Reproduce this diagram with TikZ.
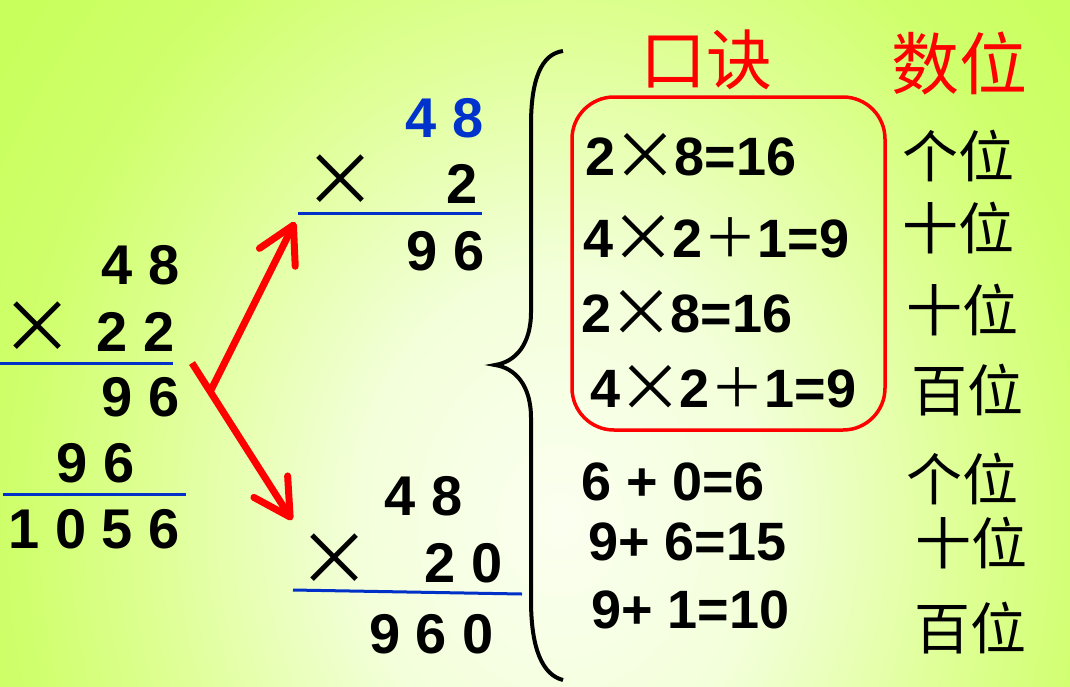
\documentclass[tikz,border=0pt]{standalone}
\usepackage{fontspec}
\setmainfont{Liberation Sans}
\newfontfamily\cjk{Noto Sans CJK SC}
\newfontfamily\cjkx{Noto Sans CJK SC}[Scale=1.3]
\usetikzlibrary{arrows.meta}
\definecolor{bgA}{HTML}{FBFFF0}
\definecolor{bgB}{HTML}{F3FFDA}
\definecolor{bgC}{HTML}{DEFF94}
\definecolor{bgD}{HTML}{CFFF6C}
\definecolor{bgE}{HTML}{C8FF5C}
\definecolor{numblue}{HTML}{0033CC}
\definecolor{lineblue}{HTML}{0030C8}
\pgfdeclareradialshading{bgshade}{\pgfpoint{0bp}{0bp}}{color(0bp)=(bgA); color(7.5bp)=(bgB); color(15bp)=(bgC); color(20bp)=(bgD); color(25bp)=(bgE); color(50bp)=(bgE)}
\newcommand{\tms}{\makebox[1.1em]{\hspace{2pt}\raisebox{-4pt}{\mdseries\cjk\fontsize{66}{66}\selectfont ×}}}
\newcommand{\pls}{\makebox[1.02em]{\mdseries\cjk ＋}}
\begin{document}
\begin{tikzpicture}[x=1pt,y=-1pt,
  num/.style={font=\bfseries\fontsize{56}{56}\selectfont, inner sep=0pt, anchor=base east},
  eqn/.style={font=\bfseries\fontsize{54}{54}\selectfont, inner sep=0pt, anchor=base west},
  timesign/.style={font=\cjkx\fontsize{57}{57}\selectfont, inner sep=0pt, anchor=center},
  place/.style={font=\cjk\fontsize{56}{56}\selectfont, inner sep=0pt, anchor=center},
  head/.style={font=\cjk\fontsize{66}{66}\selectfont, inner sep=0pt, anchor=center, text=red},
  rule/.style={draw=lineblue, line width=3pt},
  redarrow/.style={draw=red, line width=7pt, -{Straight Barb[length=36pt,width=40pt,round]}},
  brace/.style={draw=black, line width=4pt},
  box/.style={draw=red, line width=3.5pt, rounded corners=42pt}]
\useasboundingbox (0,0) rectangle (1070,686);
\begin{scope}
  \clip (0,0) rectangle (1070,686);
  \shade[shading=bgshade] (-120,-300) rectangle (1240,1340);
\end{scope}

% left column
\node[num] (a1) at (180,284) {4 8};
\node[timesign] (ax) at (38,328) {×};
\node[num] (a2) at (175,351) {2 2};
\draw[rule] (0,363) -- (173,363);
\node[num] (a3) at (180,416) {9 6};
\node[num] (a4) at (135,482) {9 6};
\draw[rule] (3,494) -- (186,494);
\node[num] (a5) at (180,548) {1 0 5 6};

% arrows
\coordinate (s) at (192,363);
\coordinate (j) at (210,392);
\coordinate (t1) at (295,222);
\coordinate (t2) at (292,520);
\draw[redarrow] (j) -- (t1);
\draw[redarrow] (s) -- (t2);

% middle top
\node[num, text=numblue] (b1) at (484,137) {4 8};
\node[timesign] (bx) at (341,181) {×};
\node[num] (b2) at (478,203) {2};
\draw[rule] (298,213) -- (482,213);
\node[num] (b3) at (485,270) {9 6};

% middle bottom
\node[num] (c1) at (463,515) {4 8};
\node[timesign] (cx) at (335,560) {×};
\node[num] (c2) at (503,582) {2 0};
\draw[rule] (293,590) -- (522,594);
\node[num] (c3) at (494,653) {9 6 0};

% brace
\draw[brace] (563,51) .. controls (541,54) and (531,80) .. (531,125) -- (531,312)
  .. controls (531,345) and (515,362) .. (495,365)
  .. controls (515,368) and (531,385) .. (531,418) -- (531,600)
  .. controls (531,650) and (543,675) .. (563,680);

% headings
\node[head] (h1) at (706,60) {口诀};
\node[head, font=\cjk\fontsize{68}{68}\selectfont] (h2) at (959,64) {数位};

% red box
\draw[box] (572,97) rectangle (885,430);

% equations
\node[eqn] (r1) at (585,175) {2\tms8=16};
\node[eqn] (r2) at (583,257) {4\tms2\pls1=9};
\node[eqn] (r3) at (581,332) {2\tms8=16};
\node[eqn] (r4) at (590,407) {4\tms2\pls1=9};
\node[eqn] (r5) at (581,500) {6 + 0=6};
\node[eqn] (r6) at (588,560) {9+ 6=15};
\node[eqn] (r7) at (591,628) {9+ 1=10};

% place labels
\node[place] (p1) at (958,156) {个位};
\node[place] (p2) at (958,228) {十位};
\node[place] (p3) at (962,310) {十位};
\node[place] (p4) at (967,390) {百位};
\node[place] (p5) at (962,479) {个位};
\node[place] (p6) at (971,543) {十位};
\node[place] (p7) at (970,628) {百位};
\end{tikzpicture}
\end{document}
